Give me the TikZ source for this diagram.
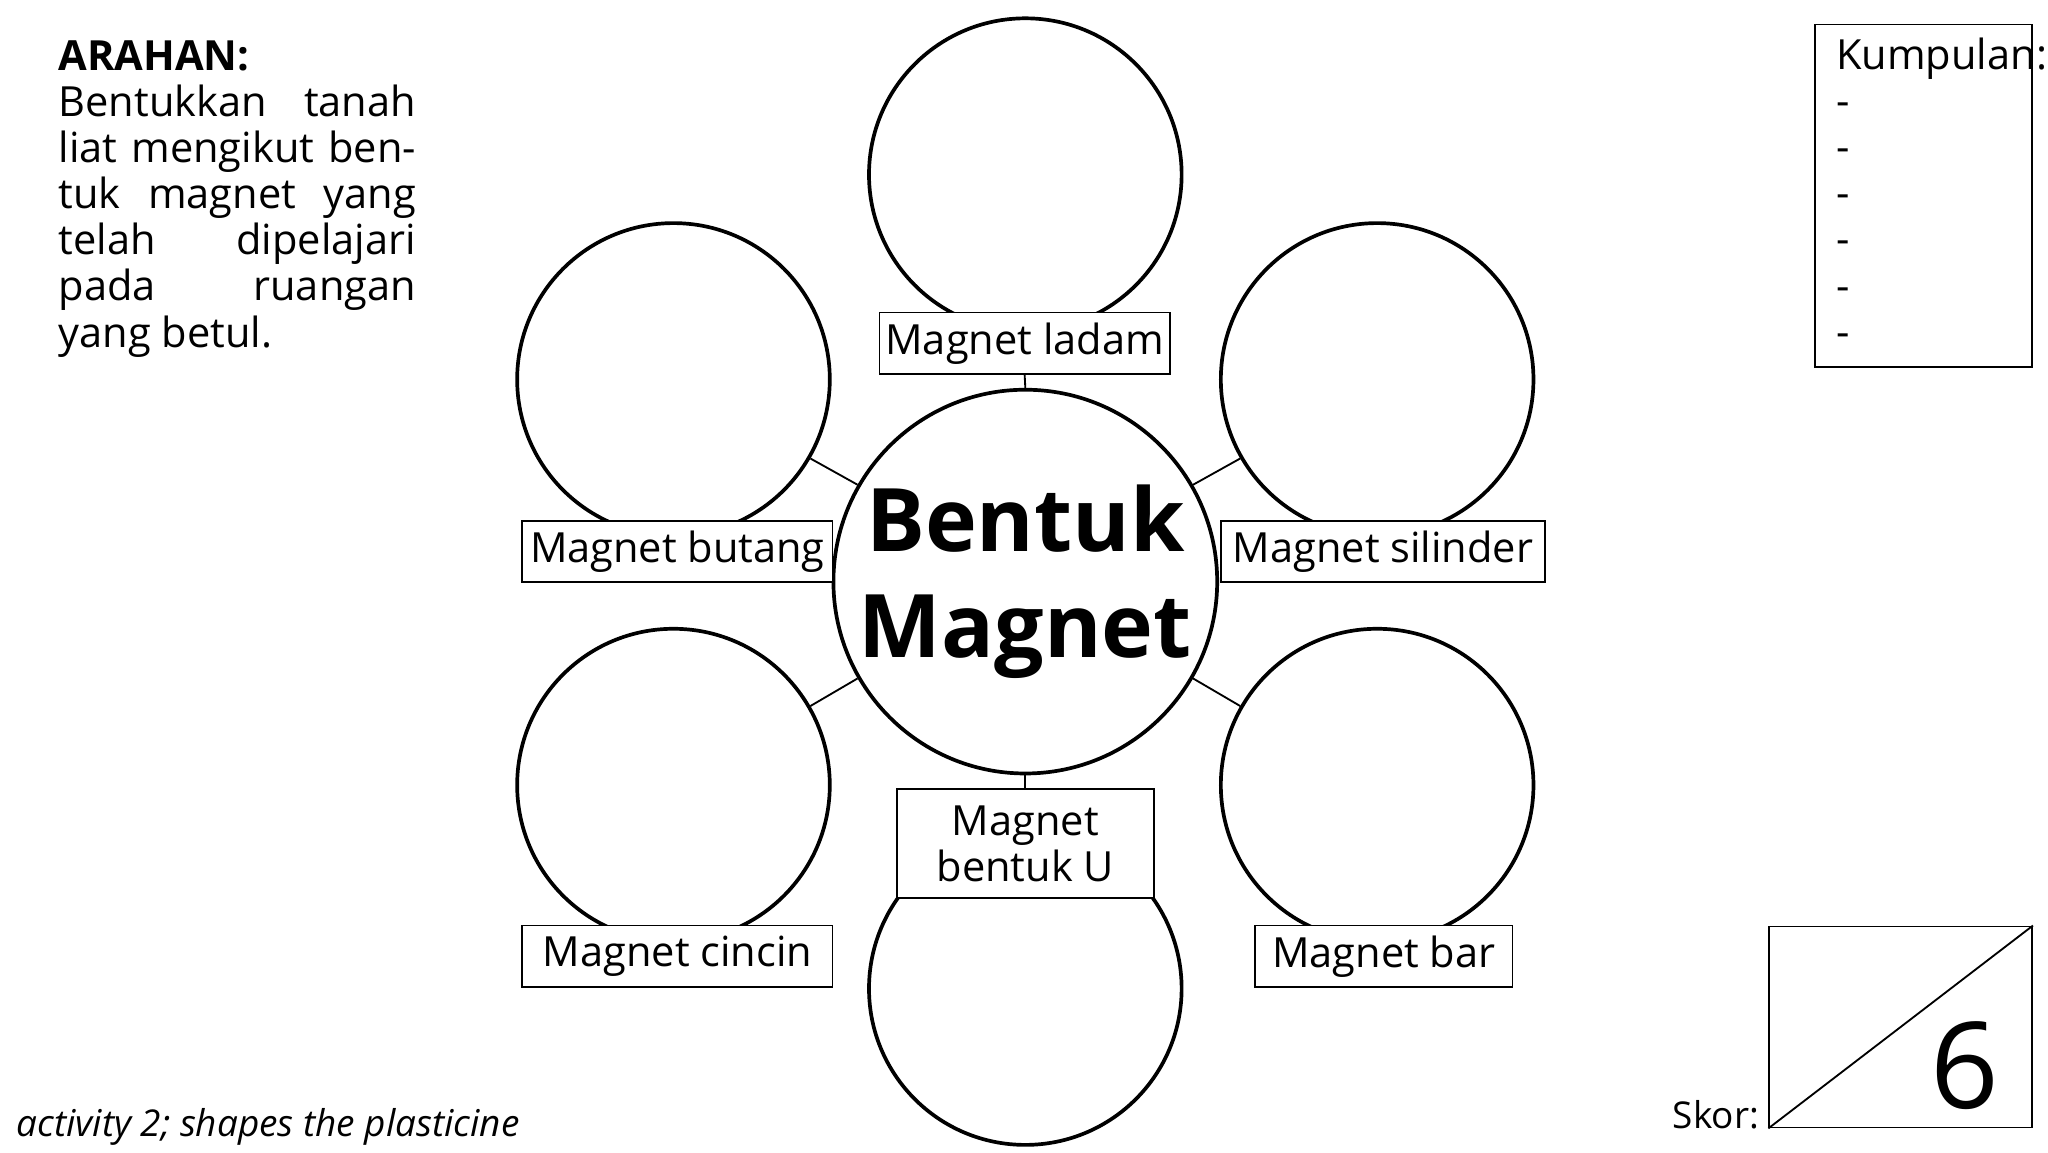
\documentclass[tikz,border=0pt]{standalone}
\usepackage{fontspec}
\setmainfont{Open Sans}
\begin{document}
\begin{tikzpicture}[x=0.01cm,y=-0.01cm,
  circ/.style={draw,thick,circle,inner sep=0pt},
  lab/.style={draw,fill=white,font=\fontsize{9}{10}\selectfont,inner sep=0pt},
  con/.style={draw}]
\useasboundingbox (0,0) rectangle (1560,877.5);
\node[circ,minimum size=2.38cm] (t) at (781,133) {};
\node[circ,minimum size=2.38cm] (ul) at (513,289) {};
\node[circ,minimum size=2.38cm] (ur) at (1049,289) {};
\node[circ,minimum size=2.38cm] (ll) at (513,598) {};
\node[circ,minimum size=2.38cm] (lr) at (1049,598) {};
\node[circ,minimum size=2.38cm] (b) at (781,753) {};
\node[circ,minimum size=2.8cm,font=\bfseries\fontsize{19}{23}\selectfont,align=center] (c) at (781,443) {Bentuk\\Magnet};
\node[lab,minimum width=2.21cm,minimum height=0.47cm] (lt) at (780.5,261.5) {Magnet ladam};
\node[lab,minimum width=2.36cm,minimum height=0.46cm] (lul) at (516,420) {Magnet butang};
\node[lab,minimum width=2.47cm,minimum height=0.46cm] (lur) at (1053.5,420) {Magnet silinder};
\node[lab,minimum width=2.36cm,minimum height=0.47cm] (lll) at (516,728.5) {Magnet cincin};
\node[lab,minimum width=1.96cm,minimum height=0.47cm] (llr) at (1054,728.5) {Magnet bar};
\node[lab,minimum width=1.96cm,minimum height=0.83cm,align=center] (lb) at (781,642.5) {Magnet\\bentuk U};
\draw[con] (c.north) -- (lt.south);
\draw[con] (c.south) -- (lb.north);
\draw[con] (c.150) -- (ul.-30);
\draw[con] (c.30) -- (ur.210);
\draw[con] (c.210) -- (ll.30);
\draw[con] (c.-30) -- (lr.150);
\node[anchor=north west,inner sep=0pt,text width=2.72cm,align=justify,font=\fontsize{9}{10}\selectfont] (ar) at (44,30)
  {\textbf{ARAHAN:}\\ Bentukkan tanah liat mengikut bentuk magnet yang telah dipelajari pada ruangan yang betul.};
\node[draw,minimum width=1.65cm,minimum height=2.61cm,anchor=north west,inner sep=0pt] (k) at (1382,18) {};
\node[anchor=north west,inner sep=0pt,align=left,font=\fontsize{9}{10}\selectfont] (kt) at (1398,28)
  {Kumpulan:\\-\\-\\-\\-\\-\\-};
\node[draw,minimum width=2cm,minimum height=1.53cm,anchor=north west,inner sep=0pt] (s) at (1347,705) {};
\draw (s.south west) -- (s.north east);
\node[font=\fontsize{26}{28}\selectfont] (six) at (1497,812) {6};
\node[font=\fontsize{8}{9}\selectfont] (sk) at (1307,849) {Skor:};
\node[anchor=west,font=\itshape\fontsize{8}{9}\selectfont,inner sep=0pt] (act) at (12,858) {activity 2; shapes the plasticine};
\end{tikzpicture}
\end{document}
